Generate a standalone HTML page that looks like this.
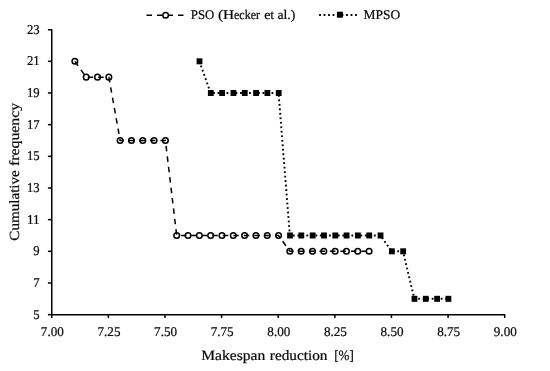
<!DOCTYPE html>
<html lang="en"><head><meta charset="utf-8"><title>Cumulative frequency of makespan reduction</title>
<style>html,body{margin:0;padding:0;background:#fff;overflow:hidden}svg{display:block}text{text-rendering:geometricPrecision;font-family:"Liberation Serif",serif;fill:#0a0a0a;stroke:#0a0a0a;stroke-width:0.22px}</style>
</head><body>
<svg width="550" height="371" viewBox="0 0 550 371">
<rect width="550" height="371" fill="#ffffff"/>
<g stroke="#000" stroke-width="1.5" fill="none" stroke-linejoin="round" stroke-linecap="butt">
<path d="M47.9 29.65 H51.75 V314.65 H504.7 V318.05"/>
<path d="M47.9 314.65 H51.75"/>
<path d="M47.9 282.98 H51.75"/>
<path d="M47.9 251.32 H51.75"/>
<path d="M47.9 219.65 H51.75"/>
<path d="M47.9 187.98 H51.75"/>
<path d="M47.9 156.32 H51.75"/>
<path d="M47.9 124.65 H51.75"/>
<path d="M47.9 92.98 H51.75"/>
<path d="M47.9 61.32 H51.75"/>
<path d="M51.75 314.65 V318.05"/>
<path d="M108.37 314.65 V318.05"/>
<path d="M164.99 314.65 V318.05"/>
<path d="M221.61 314.65 V318.05"/>
<path d="M278.23 314.65 V318.05"/>
<path d="M334.84 314.65 V318.05"/>
<path d="M391.46 314.65 V318.05"/>
<path d="M448.08 314.65 V318.05"/>
</g>
<g font-size="13.5" text-anchor="end">
<text x="39.7" y="318.65" textLength="6.35" lengthAdjust="spacingAndGlyphs">5</text>
<text x="39.7" y="286.98" textLength="6.35" lengthAdjust="spacingAndGlyphs">7</text>
<text x="39.7" y="255.32" textLength="6.35" lengthAdjust="spacingAndGlyphs">9</text>
<text x="39.7" y="223.65" textLength="12.7" lengthAdjust="spacingAndGlyphs">11</text>
<text x="39.7" y="191.98" textLength="12.7" lengthAdjust="spacingAndGlyphs">13</text>
<text x="39.7" y="160.32" textLength="12.7" lengthAdjust="spacingAndGlyphs">15</text>
<text x="39.7" y="128.65" textLength="12.7" lengthAdjust="spacingAndGlyphs">17</text>
<text x="39.7" y="96.98" textLength="12.7" lengthAdjust="spacingAndGlyphs">19</text>
<text x="39.7" y="65.32" textLength="12.7" lengthAdjust="spacingAndGlyphs">21</text>
<text x="39.7" y="33.65" textLength="12.7" lengthAdjust="spacingAndGlyphs">23</text>
</g>
<g font-size="13.3" text-anchor="middle">
<text x="52.35" y="336.4" textLength="23.0" lengthAdjust="spacingAndGlyphs">7.00</text>
<text x="108.97" y="336.4" textLength="23.0" lengthAdjust="spacingAndGlyphs">7.25</text>
<text x="165.59" y="336.4" textLength="23.0" lengthAdjust="spacingAndGlyphs">7.50</text>
<text x="222.21" y="336.4" textLength="23.0" lengthAdjust="spacingAndGlyphs">7.75</text>
<text x="278.83" y="336.4" textLength="23.0" lengthAdjust="spacingAndGlyphs">8.00</text>
<text x="335.44" y="336.4" textLength="23.0" lengthAdjust="spacingAndGlyphs">8.25</text>
<text x="392.06" y="336.4" textLength="23.0" lengthAdjust="spacingAndGlyphs">8.50</text>
<text x="448.68" y="336.4" textLength="23.0" lengthAdjust="spacingAndGlyphs">8.75</text>
<text x="505.30" y="336.4" textLength="23.0" lengthAdjust="spacingAndGlyphs">9.00</text>
</g>
<g font-size="14.3">
<text x="201.2" y="359.9" textLength="64.0" lengthAdjust="spacingAndGlyphs">Makespan</text>
<text x="269.8" y="359.9" textLength="57.6" lengthAdjust="spacingAndGlyphs">reduction</text>
<text x="334.2" y="359.9" textLength="19.6" lengthAdjust="spacingAndGlyphs">[%]</text>
</g>
<g font-size="14" transform="translate(18.9 0) rotate(-90)">
<text x="-240.7" y="0" textLength="70.5" lengthAdjust="spacingAndGlyphs">Cumulative</text>
<text x="-166.0" y="0" textLength="63.2" lengthAdjust="spacingAndGlyphs">frequency</text>
</g>
<path d="M146.5 15.2 H185" stroke="#000" stroke-width="1.5" stroke-dasharray="5.5 5" fill="none"/>
<circle cx="165.6" cy="15.2" r="2.8" fill="#fff" stroke="#000" stroke-width="1.5"/>
<g font-size="13.2">
<text x="190.8" y="18.8" textLength="23.6" lengthAdjust="spacingAndGlyphs">PSO</text>
<text x="217.9" y="18.8" textLength="16.2" lengthAdjust="spacingAndGlyphs">(H</text>
<text x="234.0" y="18.8" textLength="26.0" lengthAdjust="spacingAndGlyphs">ecker</text>
<text x="264.2" y="18.8" textLength="10" lengthAdjust="spacingAndGlyphs">et</text>
<text x="277.4" y="18.8" textLength="18" lengthAdjust="spacingAndGlyphs">al.)</text>
<text x="363.6" y="18.8" textLength="36.6" lengthAdjust="spacingAndGlyphs">MPSO</text>
</g>
<path d="M319.1 15 H358" stroke="#000" stroke-width="1.9" stroke-dasharray="1.8 2.7" fill="none"/>
<rect x="336.9" y="11.7" width="6" height="6" fill="#000"/>
<path d="M74.88 61.32 L86.20 77.15 L97.51 77.15 L108.83 77.15 L120.14 140.48 L131.45 140.48 L142.77 140.48 L154.09 140.48 L165.40 140.48 L176.71 235.48 L188.03 235.48 L199.34 235.48 L210.66 235.48 L221.98 235.48 L233.29 235.48 L244.60 235.48 L255.92 235.48 L267.24 235.48 L278.55 235.48 L289.87 251.32 L301.18 251.32 L312.50 251.32 L323.81 251.32 L335.12 251.32 L346.44 251.32 L357.76 251.32 L369.07 251.32" stroke="#000" stroke-width="1.5" stroke-dasharray="5.5 4.98" fill="none"/>
<path d="M199.35 61.32 L210.66 92.98 L221.98 92.98 L233.29 92.98 L244.61 92.98 L255.92 92.98 L267.24 92.98 L278.55 92.98 L289.87 235.48 L301.18 235.48 L312.50 235.48 L323.81 235.48 L335.12 235.48 L346.44 235.48 L357.76 235.48 L369.07 235.48 L380.39 235.48 L391.70 251.32 L403.02 251.32 L414.33 298.82 L425.65 298.82 L436.96 298.82 L448.28 298.82" stroke="#000" stroke-width="1.9" stroke-dasharray="1.8 2.7" fill="none"/>
<g fill="none" stroke="#000" stroke-width="1.5">
<circle cx="74.88" cy="61.32" r="2.8"/>
<circle cx="86.20" cy="77.15" r="2.8"/>
<circle cx="97.51" cy="77.15" r="2.8"/>
<circle cx="108.83" cy="77.15" r="2.8"/>
<circle cx="120.14" cy="140.48" r="2.8"/>
<circle cx="131.45" cy="140.48" r="2.8"/>
<circle cx="142.77" cy="140.48" r="2.8"/>
<circle cx="154.09" cy="140.48" r="2.8"/>
<circle cx="165.40" cy="140.48" r="2.8"/>
<circle cx="176.71" cy="235.48" r="2.8"/>
<circle cx="188.03" cy="235.48" r="2.8"/>
<circle cx="199.34" cy="235.48" r="2.8"/>
<circle cx="210.66" cy="235.48" r="2.8"/>
<circle cx="221.98" cy="235.48" r="2.8"/>
<circle cx="233.29" cy="235.48" r="2.8"/>
<circle cx="244.60" cy="235.48" r="2.8"/>
<circle cx="255.92" cy="235.48" r="2.8"/>
<circle cx="267.24" cy="235.48" r="2.8"/>
<circle cx="278.55" cy="235.48" r="2.8"/>
<circle cx="289.87" cy="251.32" r="2.8"/>
<circle cx="301.18" cy="251.32" r="2.8"/>
<circle cx="312.50" cy="251.32" r="2.8"/>
<circle cx="323.81" cy="251.32" r="2.8"/>
<circle cx="335.12" cy="251.32" r="2.8"/>
<circle cx="346.44" cy="251.32" r="2.8"/>
<circle cx="357.76" cy="251.32" r="2.8"/>
<circle cx="369.07" cy="251.32" r="2.8"/>
</g>
<g fill="#000">
<rect x="196.60" y="58.32" width="5.8" height="6"/>
<rect x="207.91" y="89.98" width="5.8" height="6"/>
<rect x="219.23" y="89.98" width="5.8" height="6"/>
<rect x="230.54" y="89.98" width="5.8" height="6"/>
<rect x="241.86" y="89.98" width="5.8" height="6"/>
<rect x="253.17" y="89.98" width="5.8" height="6"/>
<rect x="264.49" y="89.98" width="5.8" height="6"/>
<rect x="275.80" y="89.98" width="5.8" height="6"/>
<rect x="287.12" y="232.48" width="5.8" height="6"/>
<rect x="298.43" y="232.48" width="5.8" height="6"/>
<rect x="309.75" y="232.48" width="5.8" height="6"/>
<rect x="321.06" y="232.48" width="5.8" height="6"/>
<rect x="332.38" y="232.48" width="5.8" height="6"/>
<rect x="343.69" y="232.48" width="5.8" height="6"/>
<rect x="355.01" y="232.48" width="5.8" height="6"/>
<rect x="366.32" y="232.48" width="5.8" height="6"/>
<rect x="377.64" y="232.48" width="5.8" height="6"/>
<rect x="388.95" y="248.32" width="5.8" height="6"/>
<rect x="400.27" y="248.32" width="5.8" height="6"/>
<rect x="411.58" y="295.82" width="5.8" height="6"/>
<rect x="422.90" y="295.82" width="5.8" height="6"/>
<rect x="434.21" y="295.82" width="5.8" height="6"/>
<rect x="445.53" y="295.82" width="5.8" height="6"/>
</g>
</svg>
</body></html>
